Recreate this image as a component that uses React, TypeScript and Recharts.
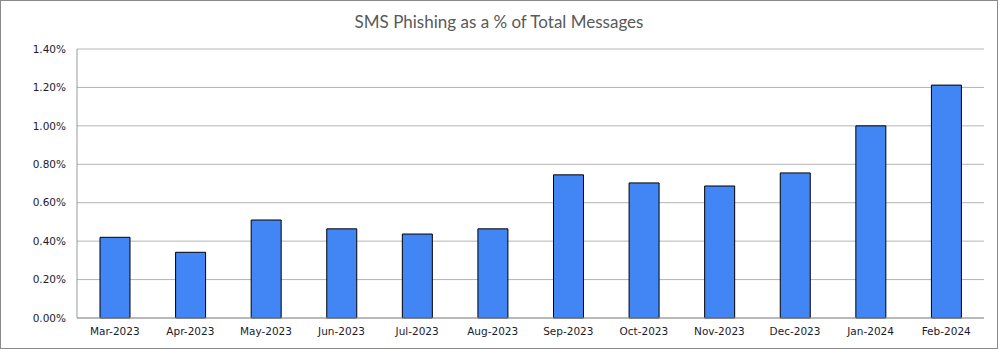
import { Bar, BarChart, CartesianGrid, XAxis, YAxis } from "recharts"

const months = [
  "Mar-2023", "Apr-2023", "May-2023", "Jun-2023", "Jul-2023", "Aug-2023",
  "Sep-2023", "Oct-2023", "Nov-2023", "Dec-2023", "Jan-2024", "Feb-2024",
]
const phishingPct = [0.42, 0.342, 0.51, 0.464, 0.437, 0.464, 0.745, 0.703, 0.687, 0.755, 1.0, 1.212]
const yTicks = [0, 0.2, 0.4, 0.6, 0.8, 1.0, 1.2, 1.4]

const data = months.map((month, i) => ({ month, value: phishingPct[i] }))

const tickStyle = { fontSize: 10.5, fill: "#1a1a2e", fontFamily: "DejaVu Sans, sans-serif" }

export default function App() {
  return (
    <div
      style={{
        position: "absolute",
        left: 0,
        top: 0,
        width: 998,
        height: 349,
        boxSizing: "border-box",
        border: "1px solid #8a8a8a",
        background: "#fff",
      }}
    >
      <div
        style={{
          position: "absolute",
          top: 10,
          left: 0,
          width: "100%",
          textAlign: "center",
          fontFamily: "Lato, 'Open Sans', sans-serif",
          fontSize: 17,
          color: "#595959",
        }}
      >
        SMS Phishing as a % of Total Messages
      </div>
      <BarChart
        width={996}
        height={347}
        data={data}
        margin={{ top: 48, right: 13, bottom: 0, left: 0 }}
        style={{ position: "absolute", left: 0, top: 0 }}
      >
        <CartesianGrid vertical={false} stroke="#b4b4b4" />
        <XAxis
          dataKey="month"
          height={30}
          stroke="#9a9a9a"
          tickLine={false}
          tickSize={0}
          tickMargin={10}
          tick={tickStyle}
          interval={0}
        />
        <YAxis
          width={76}
          domain={[0, 1.4]}
          ticks={yTicks}
          stroke="#9a9a9a"
          tickLine={false}
          tickSize={0}
          tickMargin={11}
          tick={tickStyle}
          tickFormatter={(v) => `${Number(v).toFixed(2)}%`}
        />
        <Bar
          dataKey="value"
          fill="#4285F4"
          stroke="#000"
          strokeWidth={1}
          barSize={30}
          isAnimationActive={false}
        />
      </BarChart>
    </div>
  )
}
